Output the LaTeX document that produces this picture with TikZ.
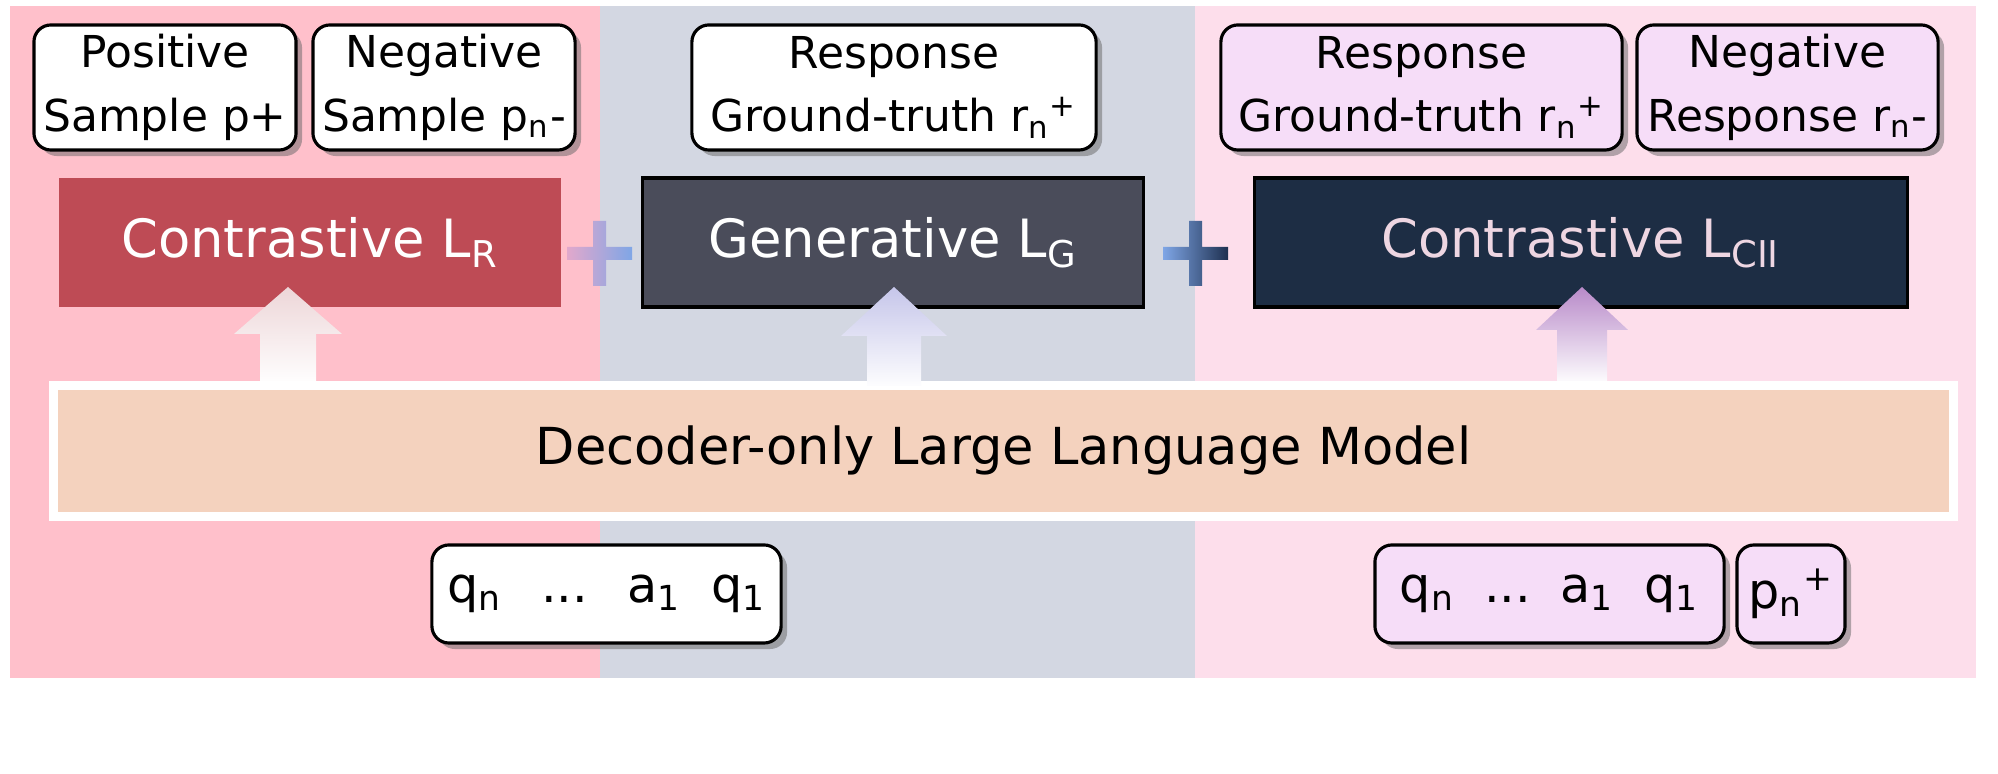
\documentclass[tikz,border=0pt]{standalone}
\usepackage{fontspec}
\setmainfont{DejaVu Sans}
\usetikzlibrary{shadows,backgrounds}

\definecolor{bgred}{HTML}{FFC0CB}
\definecolor{bggray}{HTML}{D3D7E2}
\definecolor{bgpink}{HTML}{FDDEEB}
\definecolor{lossred}{HTML}{BE4B55}
\definecolor{lossgray}{HTML}{4A4C5A}
\definecolor{lossnavy}{HTML}{1D2D44}
\definecolor{llmfill}{HTML}{F4D2BE}
\definecolor{boxlilac}{HTML}{F6DDF8}
\definecolor{barlilac}{HTML}{DDA0EC}
\definecolor{textpink}{HTML}{EED6E2}
\definecolor{plusA}{HTML}{E2A8CC}
\definecolor{plusB}{HTML}{7FA6E6}
\definecolor{plusC}{HTML}{1E3050}
\definecolor{arrowR}{HTML}{EDD6D8}
\definecolor{arrowG}{HTML}{C6C6EA}
\definecolor{arrowC}{HTML}{B88AC9}

\begin{document}
\begin{tikzpicture}[x=0.01cm,y=-0.01cm,
  tbox/.style={draw=black, line width=0.9pt, rounded corners=0.17cm, fill=white,
    align=center, inner sep=0pt, minimum height=1.25cm,
    font=\fontsize{12.5}{18}\selectfont,
    drop shadow={shadow xshift=0.06cm, shadow yshift=-0.06cm, fill=black!60, opacity=0.5}},
  lbox/.style={tbox, fill=boxlilac},
  qbox/.style={tbox, minimum height=0.98cm, font=\fontsize{14}{16}\selectfont},
  loss/.style={minimum height=1.29cm, inner sep=0pt, text=white,
    font=\fontsize{15}{18}\selectfont},
  wbar/.style={line width=0.5cm, white},
  vbar/.style={line width=0.5cm, barlilac}]

\useasboundingbox (0,0) rectangle (1998,774);

%%%%%%%%%%%%%%%%%%%%%%%%%%%%%%%%%%%%%%%%%%
  % Background panels
  \fill[bgred]  (10,6)   rectangle (600,678);
  \fill[bggray] (600,6)  rectangle (1195,678);
  \fill[bgpink] (1195,6) rectangle (1976,678);

%%%%%%%%%%%%%%%%%%%%%%%%%%%%%%%%%%%%%%%%%%
  % Inputs at the top
  \node[tbox, minimum width=2.62cm] (posbox) at (165,87.5) {Positive\\Sample p+};
  \node[tbox, minimum width=2.62cm] (negbox) at (444,87.5) {Negative\\Sample p\textsubscript{n}-};
  \node[tbox, minimum width=4.04cm] (resbox) at (894,87.5)
    {Response\\Ground-truth r\textsubscript{n}\textsuperscript{+}};
  \node[lbox, minimum width=4.01cm] (gtbox) at (1421.5,87.5)
    {Response\\Ground-truth r\textsubscript{n}\textsuperscript{+}};
  \node[lbox, minimum width=3.01cm] (nrbox) at (1787.5,87.5)
    {Negative\\Response r\textsubscript{n}-};

  % Losses
  \node[loss, fill=lossred, minimum width=5.02cm] (lossR) at (310,242.5)
    {Contrastive L\textsubscript{R}};
  \node[loss, fill=lossgray, draw=black, line width=0.9pt, minimum width=5.0cm] (lossG) at (893,242.5)
    {Generative L\textsubscript{G}};
  \node[loss, fill=lossnavy, draw=black, line width=0.9pt, minimum width=6.52cm, text=textpink] (lossC) at (1581,242.5)
    {Contrastive L\textsubscript{CII}};

  % Plus signs
  \shade[left color=plusA, right color=plusB]
    (567,247) -- ++(26,0) -- ++(0,-26) -- ++(13,0) -- ++(0,26) -- ++(26,0)
    -- ++(0,13) -- ++(-26,0) -- ++(0,26) -- ++(-13,0) -- ++(0,-26) -- ++(-26,0) -- cycle;
  \shade[left color=plusB, right color=plusC]
    (1163,247) -- ++(26,0) -- ++(0,-26) -- ++(13,0) -- ++(0,26) -- ++(26,0)
    -- ++(0,13) -- ++(-26,0) -- ++(0,26) -- ++(-13,0) -- ++(0,-26) -- ++(-26,0) -- cycle;

%%%%%%%%%%%%%%%%%%%%%%%%%%%%%%%%%%%%%%%%%%
  % The model
  \node[draw=white, line width=0.09cm, fill=llmfill, minimum width=18.98cm, minimum height=1.305cm,
    inner sep=0pt, font=\fontsize{14.5}{17}\selectfont] (llm) at (1003.5,450.75)
    {Decoder-only Large Language Model};

  % Block arrows up to the losses
  \shade[top color=arrowR, bottom color=white!96!arrowR]
    (260,381) -- (260,334) -- (234,334) -- (288,287) -- (342,334) -- (316,334) -- (316,381) -- cycle;
  \shade[top color=arrowG, bottom color=white!96!arrowG]
    (867,386) -- (867,336) -- (841,336) -- (894,287) -- (947,336) -- (921,336) -- (921,386) -- cycle;
  \shade[top color=arrowC, bottom color=white!96!arrowC]
    (1557,381) -- (1557,330) -- (1536,330) -- (1582,287) -- (1628,330) -- (1607,330) -- (1607,381) -- cycle;

%%%%%%%%%%%%%%%%%%%%%%%%%%%%%%%%%%%%%%%%%%
  % Inputs at the bottom
  \node[qbox, minimum width=3.49cm] (inl) at (606.5,594)
    {q\textsubscript{n}\hspace{0.8em}...\hspace{0.8em}a\textsubscript{1}\hspace{0.6em}q\textsubscript{1}};
  \node[qbox, fill=boxlilac, minimum width=3.49cm] (inr) at (1549.5,594)
    {q\textsubscript{n}\hspace{0.6em}...\hspace{0.6em}a\textsubscript{1}\hspace{0.6em}q\textsubscript{1}};
  \node[qbox, fill=boxlilac, minimum width=1.08cm] (pnbox) at (1791,594)
    {p\textsubscript{n}\textsuperscript{+}};

%%%%%%%%%%%%%%%%%%%%%%%%%%%%%%%%%%%%%%%%%%
  % Short links, kept under the boxes
  \begin{scope}[on background layer]
    \coordinate (pb) at ([xshift=-0.2cm]posbox.south);
    \draw[wbar] (pb) -- (pb |- lossR.north);
    \draw[wbar] (negbox.south) -- (negbox.south |- lossR.north);
    \draw[wbar] (resbox.south) -- (resbox.south |- lossG.north);
    \draw[vbar] (gtbox.south) -- (gtbox.south |- lossC.north);
    \draw[vbar] (nrbox.south) -- (nrbox.south |- lossC.north);

    \coordinate (qb) at ([xshift=0.56cm]inr.north);
    \draw[wbar, line width=0.22cm] (inl.north) -- (inl.north |- llm.south);
    \draw[wbar, line width=0.2cm] (qb) -- (qb |- llm.south);
  \end{scope}

\end{tikzpicture}
\end{document}
